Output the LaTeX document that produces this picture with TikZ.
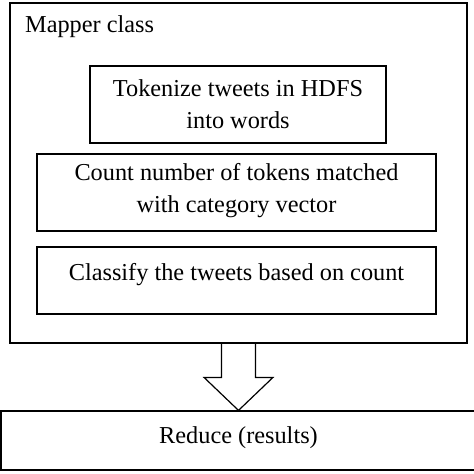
\documentclass[tikz,border=0pt]{standalone}
\usepackage{fontspec}
\setmainfont{Liberation Serif}
\usetikzlibrary{calc, positioning}
\tikzset{
    mybox/.style={draw, line width=1.2pt, inner sep=0pt},
    mytext/.style={align=center, inner sep=0pt, font=\fontsize{24.3}{32}\selectfont}
}

\begin{document}
\begin{tikzpicture}[x=1pt,y=-1pt]
\tikzset{
    myarrow/.style={draw, line width=1.2pt, line join=miter}
}
  \useasboundingbox (0,0) rectangle (474,474);

  % mapper with its three steps
  \node[mybox, minimum width=457pt, minimum height=340pt] (mapper) at (238.5,173) {};
  \node[mytext, anchor=west] (mappertxt) at (25,27) {Mapper class};

  \node[mybox, minimum width=296pt, minimum height=77pt] (tokenize) at (238,104.5) {};
  \node[mytext] (tokenizetxt) at (tokenize.center) {Tokenize tweets in HDFS\\into words};

  \node[mybox, minimum width=399pt, minimum height=77pt] (count) at (236.5,192.5) {};
  \node[mytext] (counttxt) at ([yshift=1.5pt]count.center) {Count number of tokens matched\\with category vector};

  \node[mybox, minimum width=399pt, minimum height=67pt] (classify) at (236.5,280.5) {};
  \node[mytext] (classifytxt) at ([yshift=6pt]classify.center) {Classify the tweets based on count};

  % reduce
  \node[mybox, minimum width=475pt, minimum height=59pt] (reduce) at (238.5,440.5) {};
  \node[mytext] (reducetxt) at ([yshift=3pt]reduce.center) {Reduce (results)};

  % hollow arrow
  \draw[myarrow] ($(mapper.south)+(-17,0)$) -- ($(reduce.north)+(-17,-33)$)
    -- ($(reduce.north)+(-34.5,-33)$) -- (reduce.north)
    -- ($(reduce.north)+(34.5,-33)$) -- ($(reduce.north)+(17,-33)$)
    -- ($(mapper.south)+(17,0)$);
\end{tikzpicture}
\end{document}
